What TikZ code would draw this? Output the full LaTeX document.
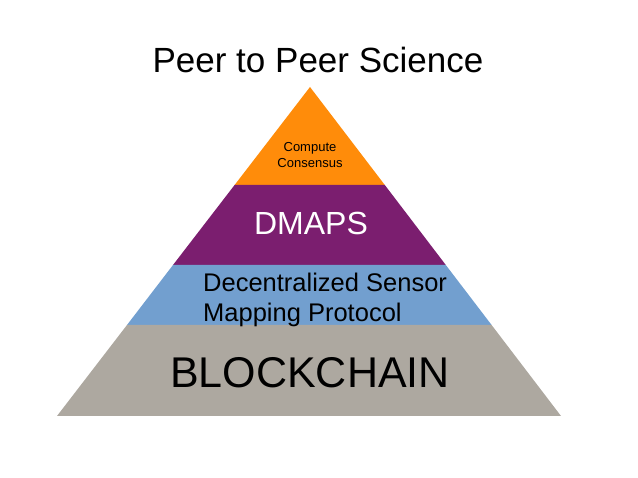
\documentclass[tikz,border=0pt]{standalone}
\usepackage{fontspec}
\setmainfont{Liberation Sans}
\definecolor{cor}{HTML}{FF8C0A}
\definecolor{cpu}{HTML}{7B1E6F}
\definecolor{cbl}{HTML}{729FCF}
\definecolor{cgr}{HTML}{ADA8A0}
\begin{document}
\begin{tikzpicture}[x=1pt,y=-1pt]
\useasboundingbox (0,0) rectangle (638,478);
\coordinate (A) at (310,87);
\coordinate (L1) at (234.6,185); \coordinate (R1) at (384.8,185);
\coordinate (L2) at (173,265); \coordinate (R2) at (445.8,265);
\coordinate (L3) at (127,325); \coordinate (R3) at (491.6,325);
\coordinate (L4) at (57,416); \coordinate (R4) at (561,416);
\fill[cor] (A)--(R1)--(L1)--cycle;
\fill[cpu] (L1)--(R1)--(R2)--(L2)--cycle;
\fill[cbl] (L2)--(R2)--(R3)--(L3)--cycle;
\fill[cgr] (L3)--(R3)--(R4)--(L4)--cycle;
\node[font=\fontsize{35}{40}\selectfont] (title) at (318,60) {Peer to Peer Science};
\node[align=center,font=\fontsize{13}{16}\selectfont] (t1) at (310,155) {Compute\\Consensus};
\node[text=white,font=\fontsize{32}{36}\selectfont] (t2) at (311,223) {DMAPS};
\node[align=left,anchor=west,inner sep=0pt,font=\fontsize{25.5}{30}\selectfont] (t3) at (203,300) {Decentralized Sensor\\Mapping Protocol};
\node[font=\fontsize{43}{48}\selectfont] (t4) at (310,373) {BLOCKCHAIN};
\end{tikzpicture}
\end{document}
